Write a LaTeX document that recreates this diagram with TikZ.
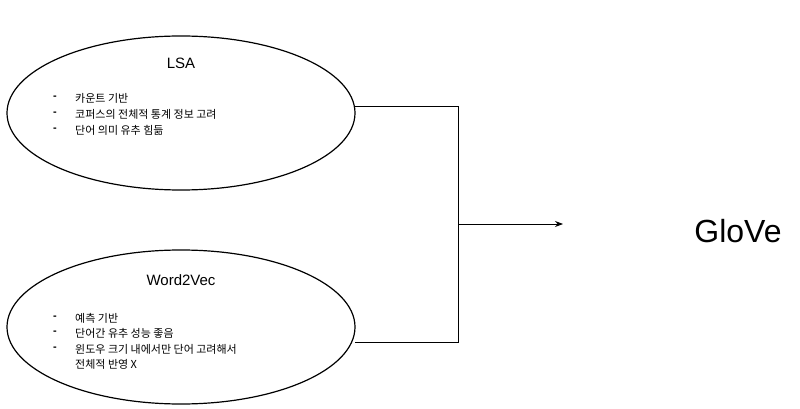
\documentclass[tikz,border=0pt]{standalone}
\usepackage{fontspec}
\setmainfont{Noto Sans CJK KR}
\newfontfamily\latinsans{Liberation Sans}
\usetikzlibrary{shapes.geometric,arrows.meta}
\begin{document}
\begin{tikzpicture}[x=1pt,y=-1pt,
  oval/.style={draw,line width=1.2pt,ellipse,minimum width=348pt,minimum height=154pt},
  ttl/.style={font=\fontsize{15}{17}\selectfont},
  item/.style={font=\fontsize{11}{13}\selectfont,anchor=west,inner sep=0pt},
  conn/.style={line width=0.9pt}]
\useasboundingbox (0,0) rectangle (800,409);
\node[oval] (lsa) at (181,113) {};
\node[oval] (w2v) at (181,327) {};
\node[ttl] (lsat) at (181,63) {\latinsans LSA};
\node[ttl] (w2vt) at (181,280) {\latinsans Word2Vec};
\foreach \y/\t [count=\i] in {98/카운트 기반,114/코퍼스의 전체적 통계 정보 고려,130/단어 의미 유추 힘듦}{
  \node[item] (d\i) at (53,\y) {\latinsans\bfseries -};
  \node[item] (l\i) at (75,\y) {\t};
}
\foreach \y/\t [count=\i] in {318/예측 기반,333/단어간 유추 성능 좋음,349/윈도우 크기 내에서만 단어 고려해서}{
  \node[item] (e\i) at (53,\y) {\latinsans\bfseries -};
  \node[item] (w\i) at (75,\y) {\t};
}
\node[item] (w4) at (75,364) {전체적 반영 X};
\coordinate (a) at (355,106);
\coordinate (b) at (458,106);
\coordinate (c) at (458,342);
\coordinate (d) at (355,342);
\coordinate (m) at (458,224);
\coordinate (t) at (563,224);
\draw[conn] (a) -- (b) -- (c) -- (d);
\draw[conn,-{Stealth[length=8pt,width=6pt]}] (m) -- (t);
\node[font=\fontsize{32}{36}\selectfont] (glove) at (738,231) {\latinsans GloVe};
\end{tikzpicture}
\end{document}
